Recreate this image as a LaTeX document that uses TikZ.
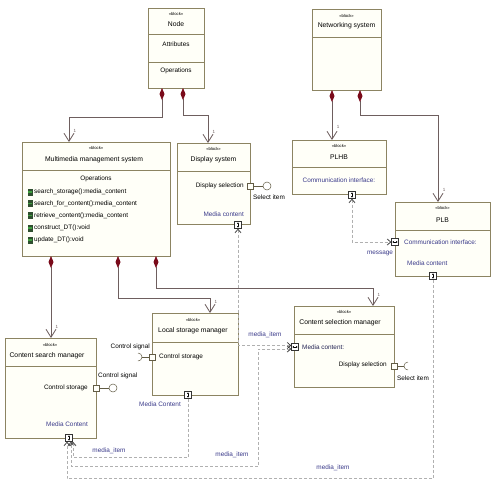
\documentclass[tikz,border=0pt]{standalone}
\usepackage{fontspec}
\setmainfont{Liberation Sans}
\usetikzlibrary{arrows.meta,calc}
\definecolor{boxc}{HTML}{8C8462}
\definecolor{boxf}{HTML}{FFFFF8}
\definecolor{linec}{HTML}{6E5E5E}
\definecolor{diamc}{HTML}{7A0A1A}
\definecolor{bluet}{HTML}{3A3A8A}
\definecolor{dashc}{HTML}{B0B0B0}
\definecolor{iconc}{HTML}{2F4F2F}
\definecolor{icong}{HTML}{3FA03F}
\tikzset{dtip/.tip={Straight Barb[length=3.5pt,width=6pt,color=black!80]}}
\newcommand\myvport[2]{\node[fport] (#1) at (#2) {};
  \draw[{Latex[length=1.6pt,width=2pt]}-{Latex[length=1.6pt,width=2pt]},line width=0.4pt] ([yshift=2.7pt]#1.center) -- ([yshift=-2.7pt]#1.center);}
\newcommand\myhport[2]{\node[fport] (#1) at (#2) {};
  \draw[{Latex[length=1.6pt,width=2pt]}-{Latex[length=1.6pt,width=2pt]},line width=0.4pt] ([xshift=2.7pt]#1.center) -- ([xshift=-2.7pt]#1.center);}
\newcommand\myicon[1]{\fill[iconc] (27.5,#1-3.5) rectangle (32.5,#1+3.5); \fill[icong] (28.2,#1-0.8) rectangle (31.8,#1+0.8);}
\begin{document}
\begin{tikzpicture}[x=1pt,y=-1pt,
 box/.style={draw=boxc,fill=boxf,line width=0.7pt,anchor=north west,inner sep=0pt,outer sep=0pt},
 ster/.style={font=\fontsize{4.2}{4.5}\selectfont,inner sep=0pt},
 ttl/.style={font=\fontsize{6.8}{8}\selectfont,inner sep=0pt},
 txt/.style={font=\fontsize{6.4}{7}\selectfont,inner sep=0pt},
 btxt/.style={txt,text=bluet},
 comp/.style={draw=linec,line width=0.8pt,{Diamond[length=12pt,width=5pt,color=diamc,fill=diamc]}-{Straight Barb[length=8pt,width=10pt]}},
 dsh/.style={draw=dashc,line width=0.7pt,dash pattern=on 3pt off 2pt},
 fport/.style={draw=black!80,fill=white,minimum size=7pt,inner sep=0pt,line width=0.5pt},
 iport/.style={draw=boxc!70!black,fill=boxf,minimum size=6pt,inner sep=0pt,line width=0.5pt},
 ball/.style={circle,draw=boxc!70!black,fill=white,minimum size=8pt,inner sep=0pt,line width=0.5pt},
 one/.style={font=\fontsize{4.5}{5}\selectfont,inner sep=0pt,text=linec},
 divl/.style={draw=boxc,line width=0.7pt}
]
\useasboundingbox[fill=white] (0,0) rectangle (491,483);

% ---------- boxes ----------
\node[box,minimum width=56pt,minimum height=80pt] (node) at (148,8) {};
\draw[divl] (148,34) -- (204,34);
\draw[divl] (148,62) -- (204,62);
\node[ster] at (176,14) {«block»};
\node[ttl] at (176,24) {Node};
\node[txt] at (176,44) {Attributes};
\node[txt] at (176,71) {Operations};

\node[box,minimum width=69pt,minimum height=81pt] (net) at (312,9) {};
\draw[divl] (312,37) -- (381,37);
\node[ster] at (346.5,16) {«block»};
\node[ttl] at (346.5,26) {Networking system};

\node[box,minimum width=148pt,minimum height=114pt] (mms) at (22,142) {};
\draw[divl] (22,170) -- (170,170);
\node[ster] at (96,148) {«block»};
\node[ttl] at (94,160) {Multimedia management system};
\node[txt] at (96,179) {Operations};
\foreach \yy/\tt in {192/search\_storage():media\_content,203.5/search\_for\_content():media\_content,215.5/retrieve\_content():media\_content,228/construct\_DT():void,240/update\_DT():void}{
  \myicon{\yy}
  \node[txt,anchor=west] at (34,\yy) {\tt};
}

\node[box,minimum width=73pt,minimum height=81pt] (disp) at (177,143) {};
\draw[divl] (177,171) -- (250,171);
\node[ster] at (213.5,149) {«block»};
\node[ttl] at (213.5,160) {Display system};
\node[txt,anchor=east] at (244,186) {Display selection};
\node[btxt,anchor=east] at (244,214) {Media content};

\node[box,minimum width=94pt,minimum height=54pt] (plhb) at (292,140) {};
\draw[divl] (292,167) -- (386,167);
\node[ster] at (339,146) {«block»};
\node[ttl] at (339,157) {PLHB};
\node[btxt] at (339,180) {Communication interface:};

\node[box,minimum width=95pt,minimum height=74pt] (plb) at (395,202) {};
\draw[divl] (395,230) -- (490,230);
\node[ster] at (442.5,208) {«block»};
\node[ttl] at (442.5,220) {PLB};
\node[btxt,anchor=west] at (404,242) {Communication interface:};
\node[btxt,anchor=west] at (407,263) {Media content};

\node[box,minimum width=86pt,minimum height=82pt] (lsm) at (152,313) {};
\draw[divl] (152,342) -- (238,342);
\node[ster] at (193,320) {«block»};
\node[ttl] at (193,331) {Local storage manager};
\node[txt,anchor=west] at (159,357) {Control storage};
\node[txt,anchor=east] at (150,347) {Control signal};
\node[btxt,anchor=east] at (181,404) {Media Content};

\node[box,minimum width=91pt,minimum height=100pt] (csm) at (5,338) {};
\draw[divl] (5,366) -- (96,366);
\node[ster] at (50,345) {«block»};
\node[ttl] at (47,356) {Content search manager};
\node[txt,anchor=east] at (88,388) {Control storage};
\node[txt,anchor=west] at (98,376) {Control signal};
\node[btxt,anchor=east] at (88,424) {Media Content};

\node[box,minimum width=100pt,minimum height=81pt] (csel) at (294,306) {};
\draw[divl] (294,334) -- (394,334);
\node[ster] at (344,312) {«block»};
\node[ttl] at (340,323) {Content selection manager};
\node[txt,anchor=west,text=bluet!60!black] at (302,347) {Media content:};
\node[txt,anchor=east] at (387,365) {Display selection};
\node[txt,anchor=west] at (397,378) {Select item};

% ---------- interface ports ----------
\node[iport] (dsq) at (250,186) {};
\node[ball] (dball) at (267,186) {};
\draw[boxc!70!black,line width=0.5pt] (dsq.east) -- (dball.west);
\node[txt,anchor=west] at (253,197) {Select item};

\node[iport] (csq) at (96,388) {};
\node[ball] (cball) at (113,388) {};
\draw[boxc!70!black,line width=0.5pt] (csq.east) -- (cball.west);

\node[iport] (lsq) at (152,357) {};
\coordinate (lsock) at (142,357);
\draw[boxc!70!black,line width=0.5pt] (lsq.west) -- (lsock);
\draw[boxc!70!black,line width=0.5pt] (138,353) arc[start angle=-90,end angle=90,radius=4];

\node[iport] (selsq) at (394,366) {};
\coordinate (ssock) at (404,366);
\draw[boxc!70!black,line width=0.5pt] (selsq.east) -- (ssock);
\draw[boxc!70!black,line width=0.5pt] (408,362) arc[start angle=270,end angle=90,radius=4];

% ---------- flow ports ----------
\myvport{dispp}{238,225}
\myvport{plhbp}{352,195}
\myhport{plbl}{395,242}
\myvport{plbb}{433,276}
\myvport{lsmp}{188,395}
\myvport{csmp}{69,438}
\myhport{cselp}{295,347}

% ---------- composition connectors ----------
\coordinate (s1) at ([xshift=14pt]node.south west);
\draw[comp] (s1) -- ++(0,29) -| ([xshift=47pt]mms.north west);
\coordinate (s2) at ([xshift=35pt]node.south west);
\draw[comp] (s2) -- ++(0,27) -| ([xshift=31pt]disp.north west);
\coordinate (s3) at ([xshift=20pt]net.south west);
\draw[comp] (s3) -- (s3 |- plhb.north);
\coordinate (s4) at ([xshift=48pt]net.south west);
\draw[comp] (s4) -- ++(0,25) -| ([xshift=43pt]plb.north west);
\coordinate (s5) at ([xshift=29pt]mms.south west);
\draw[comp] (s5) -- (s5 |- csm.north);
\coordinate (s6) at ([xshift=96pt]mms.south west);
\draw[comp] (s6) -- ++(0,42) -| ([xshift=58pt]lsm.north west);
\coordinate (s7) at ([xshift=134pt]mms.south west);
\draw[comp] (s7) -- ++(0,32) -| ([xshift=79pt]csel.north west);

\node[one] at (75,131) {1};
\node[one] at (214,132) {1};
\node[one] at (338,127) {1};
\node[one] at (444,190) {1};
\node[one] at (57,327) {1};
\node[one] at (216,302) {1};
\node[one] at (379,295) {1};

% ---------- item flows ----------
\draw[dsh,dtip-dtip] (plhbp.south) |- (plbl.west);
\node[btxt] at (380,253) {message};

\draw[dsh,dtip-dtip] (dispp.south) |- ([yshift=1.5pt]cselp.west);
\node[btxt] at (265,335) {media\_item};

\draw[dsh,dtip-dtip] ([yshift=-2pt]cselp.west) -- ++(-33,0) |- ($(csmp.south)+(2,24.5)$) -- ([xshift=2pt]csmp.south);
\node[btxt] at (232,455) {media\_item};

\draw[dsh,-dtip] (lsmp.south) |- ($(csmp.south)+(4,15.5)$) -- ([xshift=4pt]csmp.south);
\node[btxt] at (109,451) {media\_item};

\draw[dsh,-dtip] (plbb.south) |- ($(csmp.south)+(-2,37)$) -- ([xshift=-2pt]csmp.south);
\node[btxt] at (333,468) {media\_item};
\end{tikzpicture}
\end{document}
